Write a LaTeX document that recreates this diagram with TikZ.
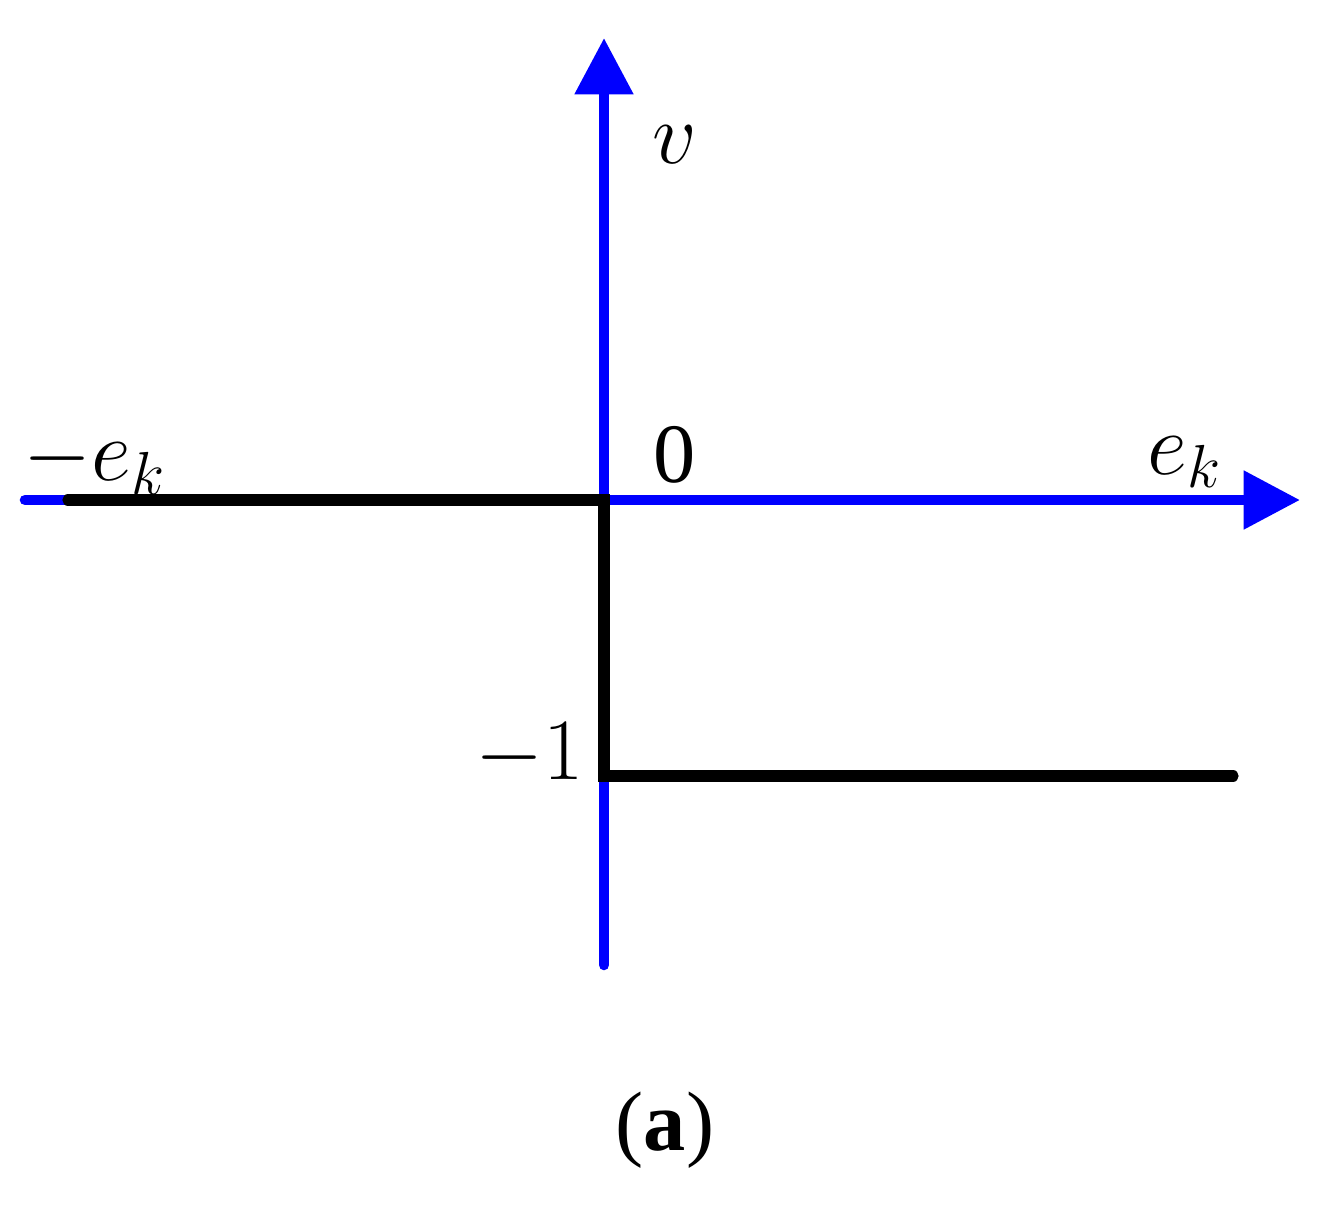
\documentclass[tikz,border=0pt]{standalone}
\usepackage{fontspec}
\setmainfont{Liberation Serif}
\usetikzlibrary{arrows.meta}
\begin{document}
\begin{tikzpicture}[x=0.01cm,y=-0.01cm,
  axis/.style={blue,line width=3pt,line cap=round,-{Triangle[length=16pt,width=16pt]}},
  curve/.style={black,line width=3.2pt,line cap=round,line join=miter},
  lbl/.style={font=\fontsize{24}{28}\selectfont,inner sep=0pt}]
\useasboundingbox (0,0) rectangle (1321,1209);
\coordinate (xl) at (25,500); \coordinate (xr) at (1300,500);
\coordinate (yb) at (604,965); \coordinate (yt) at (604,38);
\draw[axis] (xl) -- (xr);
\draw[axis] (yb) -- (yt);
\coordinate (c1) at (68,500); \coordinate (c2) at (604,500);
\coordinate (c3) at (604,776); \coordinate (c4) at (1233,776);
\draw[curve] (c1) -- (c2) -- (c3) -- (c4);
\node[lbl] (v) at (675,145) {$v$};
\node[lbl] (z) at (675,455) {0};
\node[lbl] (ek) at (1185,462) {$e_k$};
\node[lbl] (mek) at (95,462) {$-e_k$};
\node[lbl] (m1) at (530,755) {$-1$};
\node[lbl] (a) at (665,1130) {(\textbf{a})};
\end{tikzpicture}
\end{document}
